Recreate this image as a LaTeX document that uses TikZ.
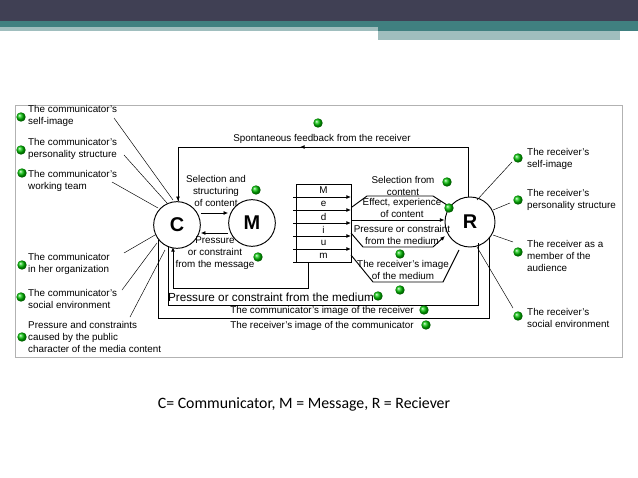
\documentclass[tikz,border=0pt]{standalone}
\usepackage{fontspec}
\setmainfont{Liberation Sans}
\newfontfamily\capfont{Carlito}
\usetikzlibrary{arrows.meta,shadings}
\begin{document}
\begin{tikzpicture}[x=0.03cm,y=-0.03cm,font=\fontsize{8.4}{10}\selectfont]
    \tikzstyle{marrs}=[thick,-{Latex[length=4pt,width=3.5pt]}]
    \tikzstyle{pnode}=[circle, draw=black, thick, fill=white, minimum size=1.4cm, font=\fontsize{17}{17}\selectfont\bfseries]
    \tikzstyle{gdot}=[circle, inner sep=0pt, minimum size=8pt, ball color=green!75!black]
    \tikzstyle{ltext}=[align=left, anchor=west, inner sep=0pt]
    \tikzstyle{ctext}=[align=center, inner sep=0pt]
    \tikzstyle{wire}=[thick]

    \useasboundingbox (0,0) rectangle (638,478);
    % slide header
    \fill[fill={rgb,255:red,64;green,64;blue,84}] (0,0) rectangle (638,21);
    \fill[fill={rgb,255:red,64;green,128;blue,128}] (0,21) rectangle (638,27);
    \fill[fill={rgb,255:red,160;green,190;blue,190}] (0,27) rectangle (378,31);
    \fill[fill={rgb,255:red,64;green,128;blue,128}] (378,27) rectangle (638,31);
    \fill[fill={rgb,255:red,160;green,190;blue,190}] (378,31) rectangle (620,40);
    \draw[gray!60, line width=0.6pt] (15,105) rectangle (622,357);

    % circles
    \node[pnode] (C) at (177,225) {C};
    \node[pnode] (M) at (252,223) {M};
    \node[pnode, minimum size=1.5cm] (R) at (470,222) {R};

    % medium box
    \draw[thick] (296,184) rectangle (351,262);
    \foreach \l [count=\i] in {M,e,d,i,u,m} {
        \node (med\i) at (323.5,184+13*\i-6.5) {\l};
    }
    \foreach \i in {1,...,5} {
        \draw[marrs] (293,184+13*\i) -- (351,184+13*\i);
    }
    \draw[thick] (293,262) -- (296,262);

    % C and M
    \draw[marrs] (C.east |- 0,213) -- (M.west |- 0,213);
    \draw[marrs] (M.west |- 0,233) -- (C.east |- 0,233);
    \node[ctext] (selc) at (216,191) {Selection and\\structuring\\of content};
    \node[ctext] (prm) at (215,253) {Pressure\\or constraint\\from the message};

    % feedback
    \coordinate (fbR) at (468,147);
    \coordinate (fbC) at (178,147);
    \draw[wire] (R.north -| fbR) -- (fbR) -- (fbC) -- (C.north -| fbC);
    \draw[marrs] (fbC) -- (C.north -| fbC);
    \draw[marrs] (340,147) -- (300,147);
    \node[ctext] (fb) at (322,139) {Spontaneous feedback from the receiver};

    % medium to C
    \coordinate (pm1) at (308,288);
    \coordinate (pm2) at (173,288);
    \draw[wire] (308,262) -- (pm1) -- (pm2);
    \draw[marrs] (pm2) -- (173,247);
    \node[inner sep=0pt, font=\fontsize{10}{12}\selectfont] (pmt) at (271,297) {Pressure or constraint from the medium};

    % R to C
    \draw[wire] (478,243) -- (478,305) -- (168,305) -- (168,246);
    \draw[wire] (489,238) -- (489,318) -- (158,318) -- (158,240);
    \node[inner sep=0pt] (cir) at (322,311) {The communicator's image of the receiver};
    \node[inner sep=0pt] (ric) at (322,326) {The receiver's image of the communicator};

    % medium to R
    \draw[wire] (447,205) -- (433,196) -- (367,196) -- (352,207);
    \draw[marrs] (352,220) -- (R.west |- 0,220);
    \draw[marrs] (351,233) -- (363,247) -- (433,247) -- (445,236);
    \draw[wire] (351,255) -- (373,282) -- (443,282) -- (459,250);
    \node[ctext] (sfc) at (403,186) {Selection from\\content};
    \node[ctext] (eoc) at (402,208) {Effect, experience\\of content};
    \node[ctext] (pfm) at (402,235) {Pressure or constraint\\from the medium};
    \node[ctext] (rim) at (403,270) {The receiver's image\\of the medium};

    % communicator side
    \node[ltext] (cs) at (28,116) {The communicator's\\self-image};
    \node[ltext] (cp) at (28,149) {The communicator's\\personality structure};
    \node[ltext] (cw) at (28,181) {The communicator's\\working team};
    \node[ltext] (co) at (28,264) {The communicator\\in her organization};
    \node[ltext] (ce) at (28,299) {The communicator's\\social environment};
    \node[ltext] (cc) at (28,337) {Pressure and constraints\\caused by the public\\character of the media content};
    \draw (114,118) -- (173,200);
    \draw (124,155) -- (167,203);
    \draw (112,182) -- (158,208);
    \draw (124,253) -- (155,235);
    \draw (122,290) -- (157,243);
    \draw (130,317) -- (165,250);

    % receiver side
    \node[ltext] (rs) at (527,159) {The receiver's\\self-image};
    \node[ltext] (rp) at (527,200) {The receiver's\\personality structure};
    \node[ltext] (ra) at (527,256) {The receiver as a\\member of the\\audience};
    \node[ltext] (re) at (527,318) {The receiver's\\social environment};
    \draw (512,162) -- (477,200);
    \draw (510,203) -- (493,210);
    \draw (513,242) -- (493,235);
    \draw (513,308) -- (477,247);

    % green dots
    \foreach \p in {(21,117),(21,150),(22,173),(22,265),(21,297),(22,337),
                    (318,123),(256,190),(258,257),(378,296),(424,310),(426,325),
                    (447,182),(449,208),(400,254),(400,290),
                    (518,158),(518,200),(518,252),(518,316)} {
        \node[gdot] at \p {};
    }

    \node[font=\capfont\fontsize{13.5}{16}\selectfont] (cap) at (304,404) {C= Communicator, M = Message, R = Reciever};
\end{tikzpicture}
\end{document}
